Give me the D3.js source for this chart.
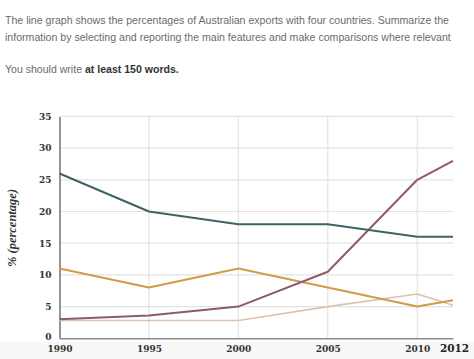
<!DOCTYPE html>
<html><head><meta charset="utf-8">
<script src="https://cdn.jsdelivr.net/npm/d3@7"></script>
<style>
html,body{margin:0;padding:0;background:#fff;}
svg{display:block;}
</style></head>
<body>
<svg id="c" width="474" height="359"></svg>
<script>
const years = [1990, 1995, 2000, 2005, 2010, 2012];
const xTickLabels = ["1990", "1995", "2000", "2005", "2010", "2012"];
const yTicks = [0, 5, 10, 15, 20, 25, 30, 35];
const seriesTeal   = [26, 20, 18, 18, 16, 16];
const seriesOrange = [11, 8, 11, 8, 5, 6];
const seriesMauve  = [3, 3.6, 5, 10.5, 25, 28];
const seriesBeige  = [2.8, 2.8, 2.8, 5, 7, 5.2];
const seriesColors = ["#d9c4b2", "#d39b48", "#8e5b67", "#3c6467"];
const seriesWidths = [1.6, 2, 2, 2];

const svg = d3.select("#c");
svg.append("rect").attr("x",0).attr("y",342).attr("width",474).attr("height",17).attr("fill","#f7f7f7");

// header text, font size fitted to target widths
const tg = svg.append("g").attr("font-family","'Liberation Sans', Arial, sans-serif").attr("fill","#6b6b6b");
function fitText(sel, target) {
  let fs = 12;
  sel.attr("font-size", fs + "px");
  const w = sel.node().getComputedTextLength();
  fs = fs * target / w;
  sel.attr("font-size", fs.toFixed(2) + "px");
}
const t1 = tg.append("text").attr("x",5).attr("y",24)
  .text("The line graph shows the percentages of Australian exports with four countries. Summarize the");
fitText(t1, 444);
const t2 = tg.append("text").attr("x",5).attr("y",41)
  .text("information by selecting and reporting the main features and make comparisons where relevant");
fitText(t2, 446);
const t3 = tg.append("text").attr("x",5).attr("y",73);
t3.append("tspan").text("You should write ");
t3.append("tspan").attr("font-weight","bold").attr("fill","#333").text("at least 150 words.");
fitText(t3, 174);

const x = d3.scaleLinear().domain([1990, 2012]).range([59.5, 453]);
const y = d3.scaleLinear().domain([0, 35]).range([338.3, 116.4]);

// grid
svg.append("g").selectAll("line").data(yTicks.slice(1)).join("line")
  .attr("x1", x(1990)).attr("x2", x(2012))
  .attr("y1", d=>y(d)).attr("y2", d=>y(d))
  .attr("stroke","#e3e3e3").attr("stroke-width",1.2);
svg.append("g").selectAll("line").data(years.slice(1,5)).join("line")
  .attr("x1", d=>x(d)).attr("x2", d=>x(d))
  .attr("y1", y(35)).attr("y2", y(0))
  .attr("stroke","#e3e3e3").attr("stroke-width",1.2);

// axes
const yAxis = d3.axisLeft(y).tickValues(yTicks).tickSize(0).tickPadding(8);
const gy = svg.append("g").attr("transform",`translate(${x(1990)},0)`).call(yAxis);
gy.select(".domain").attr("stroke","#8a8a8a").attr("stroke-width",1.8);
gy.selectAll("text").attr("font-family","'DejaVu Serif', serif").attr("font-weight","bold")
  .attr("font-size","9px").attr("fill","#333");
gy.selectAll("text").filter(d=>d===0).attr("dy","0.1em");

const xAxis = d3.axisBottom(x).tickValues(years).tickFormat((d,i)=>xTickLabels[i]).tickSize(0).tickPadding(7);
const gx = svg.append("g").attr("transform",`translate(0,${y(0)})`).call(xAxis);
gx.select(".domain").attr("stroke","#8a8a8a").attr("stroke-width",1.5);
gx.selectAll("text").attr("font-family","'DejaVu Serif', serif").attr("font-weight","bold")
  .attr("font-size","9px").attr("fill","#333");
gx.selectAll("text").filter(d=>d===2012).attr("font-size","10.5px").attr("fill","#222").attr("dx", 1).attr("dy","0.62em");

// y label
svg.append("text").attr("transform","translate(16,228) rotate(-90)")
  .attr("text-anchor","middle").attr("font-family","'Liberation Serif', serif")
  .attr("font-style","italic").attr("font-weight","bold").attr("font-size","12.5px").attr("fill","#333")
  .text("% (percentage)");

// lines
const line = d3.line().x((d,i)=>x(years[i])).y(d=>y(d));
const allSeries = [seriesBeige, seriesOrange, seriesMauve, seriesTeal];
svg.append("g").selectAll("path").data(allSeries).join("path")
  .attr("d", d=>line(d)).attr("fill","none")
  .attr("stroke",(d,i)=>seriesColors[i]).attr("stroke-width",(d,i)=>seriesWidths[i])
  .attr("stroke-linejoin","round");
</script>
</body></html>
